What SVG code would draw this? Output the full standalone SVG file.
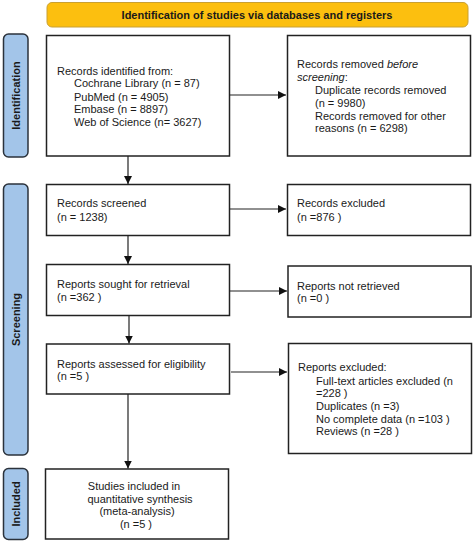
<svg xmlns="http://www.w3.org/2000/svg" width="474" height="544" viewBox="0 0 474 544">
<defs>
<marker id="ah" viewBox="0 0 10 10" refX="10" refY="5" markerWidth="8" markerHeight="8" markerUnits="userSpaceOnUse" orient="auto">
<path d="M0,0 L10,5 L0,10 z" fill="#111"/>
</marker>
<style>
.box{fill:#fff;stroke:#222;stroke-width:1.5}
.side{fill:#a3c5e9;stroke:#2b323b;stroke-width:1.5}
.t{font-family:"Liberation Sans",Arial,sans-serif;font-size:11px;fill:#1a1a1a}
.s{font-family:"Liberation Sans",Arial,sans-serif;font-size:11px;font-weight:bold;fill:#1a1a1a}
.c{fill:none;stroke:#222;stroke-width:1.2;marker-end:url(#ah)}
</style>
</defs>
<rect width="474" height="544" fill="#fff"/>
<g id="banner">
<rect x="47" y="2.5" width="421" height="24.5" rx="5" fill="#fcbf0f" stroke="#c9a032" stroke-width="1"/>
<text class="s" x="257" y="18.5" text-anchor="middle">Identification of studies via databases and registers</text>
</g>
<g id="lbl-identification">
<rect class="side" x="3.5" y="34" width="24.5" height="123" rx="5"/>
<text class="s" transform="translate(19.5,95.5) rotate(-90)" text-anchor="middle">Identification</text>
</g>
<g id="lbl-screening">
<rect class="side" x="3.5" y="184" width="24.5" height="271" rx="5"/>
<text class="s" transform="translate(19.5,319.5) rotate(-90)" text-anchor="middle">Screening</text>
</g>
<g id="lbl-included">
<rect class="side" x="3.5" y="468.5" width="24.5" height="71" rx="5"/>
<text class="s" transform="translate(19.5,504) rotate(-90)" text-anchor="middle">Included</text>
</g>
<g id="identified">
<rect class="box" x="46.5" y="35.5" width="183" height="120.5"/>
<text class="t" x="57" y="75">Records identified from:</text>
<text class="t" x="74" y="87">Cochrane Library (n = 87)</text>
<text class="t" x="74" y="100.5">PubMed (n = 4905)</text>
<text class="t" x="74" y="113">Embase (n = 8897)</text>
<text class="t" x="74" y="125.5">Web of Science (n= 3627)</text>
</g>
<g id="removed">
<rect class="box" x="287.5" y="35.5" width="183" height="120.5"/>
<text class="t" x="297" y="68">Records removed <tspan font-style="italic">before</tspan></text>
<text class="t" x="297" y="81"><tspan font-style="italic">screening</tspan>:</text>
<text class="t" x="315" y="94">Duplicate records removed</text>
<text class="t" x="315" y="106.5">(n = 9980)</text>
<text class="t" x="315" y="119.5">Records removed for other</text>
<text class="t" x="315" y="132">reasons (n = 6298)</text>
</g>
<g id="screened">
<rect class="box" x="46.5" y="184.5" width="183" height="51"/>
<text class="t" x="57" y="207">Records screened</text>
<text class="t" x="57" y="220.5">(n = 1238)</text>
</g>
<g id="excluded">
<rect class="box" x="287.5" y="184.5" width="183" height="51"/>
<text class="t" x="297" y="207">Records excluded</text>
<text class="t" x="297" y="220.5">(n =876 )</text>
</g>
<g id="sought">
<rect class="box" x="46.5" y="264.5" width="183" height="51"/>
<text class="t" x="57" y="288">Reports sought for retrieval</text>
<text class="t" x="57" y="301">(n =362 )</text>
</g>
<g id="notretrieved">
<rect class="box" x="288" y="266" width="183" height="51"/>
<text class="t" x="297" y="290">Reports not retrieved</text>
<text class="t" x="297" y="302">(n =0 )</text>
</g>
<g id="assessed">
<rect class="box" x="46.5" y="344" width="183" height="50"/>
<text class="t" x="57" y="368">Reports assessed for eligibility</text>
<text class="t" x="57" y="380">(n =5 )</text>
</g>
<g id="reportsexcluded">
<rect class="box" x="288.5" y="343.5" width="183" height="110"/>
<text class="t" x="298" y="371">Reports excluded:</text>
<text class="t" x="316" y="385">Full-text articles excluded (n</text>
<text class="t" x="316" y="397">=228 )</text>
<text class="t" x="316" y="409.5">Duplicates (n =3)</text>
<text class="t" x="316" y="422.5">No complete data (n =103 )</text>
<text class="t" x="316" y="435">Reviews (n =28 )</text>
</g>
<g id="included">
<rect class="box" x="45.5" y="469" width="183" height="70"/>
<text class="t" x="134" y="490" text-anchor="middle">Studies included in</text>
<text class="t" x="140" y="502.5" text-anchor="middle">quantitative synthesis</text>
<text class="t" x="137" y="515" text-anchor="middle">(meta-analysis)</text>
<text class="t" x="136" y="528" text-anchor="middle">(n =5 )</text>
</g>
<g id="connectors">
<path class="c" d="M229.5,95 H286"/>
<path class="c" d="M128,156 V184"/>
<path class="c" d="M229.5,209 H286"/>
<path class="c" d="M128,235.5 V264"/>
<path class="c" d="M229.5,291 H287"/>
<path class="c" d="M129,315.5 V343.5"/>
<path class="c" d="M231,372 H287"/>
<path class="c" d="M128,394 V468.5"/>
</g>
</svg>
